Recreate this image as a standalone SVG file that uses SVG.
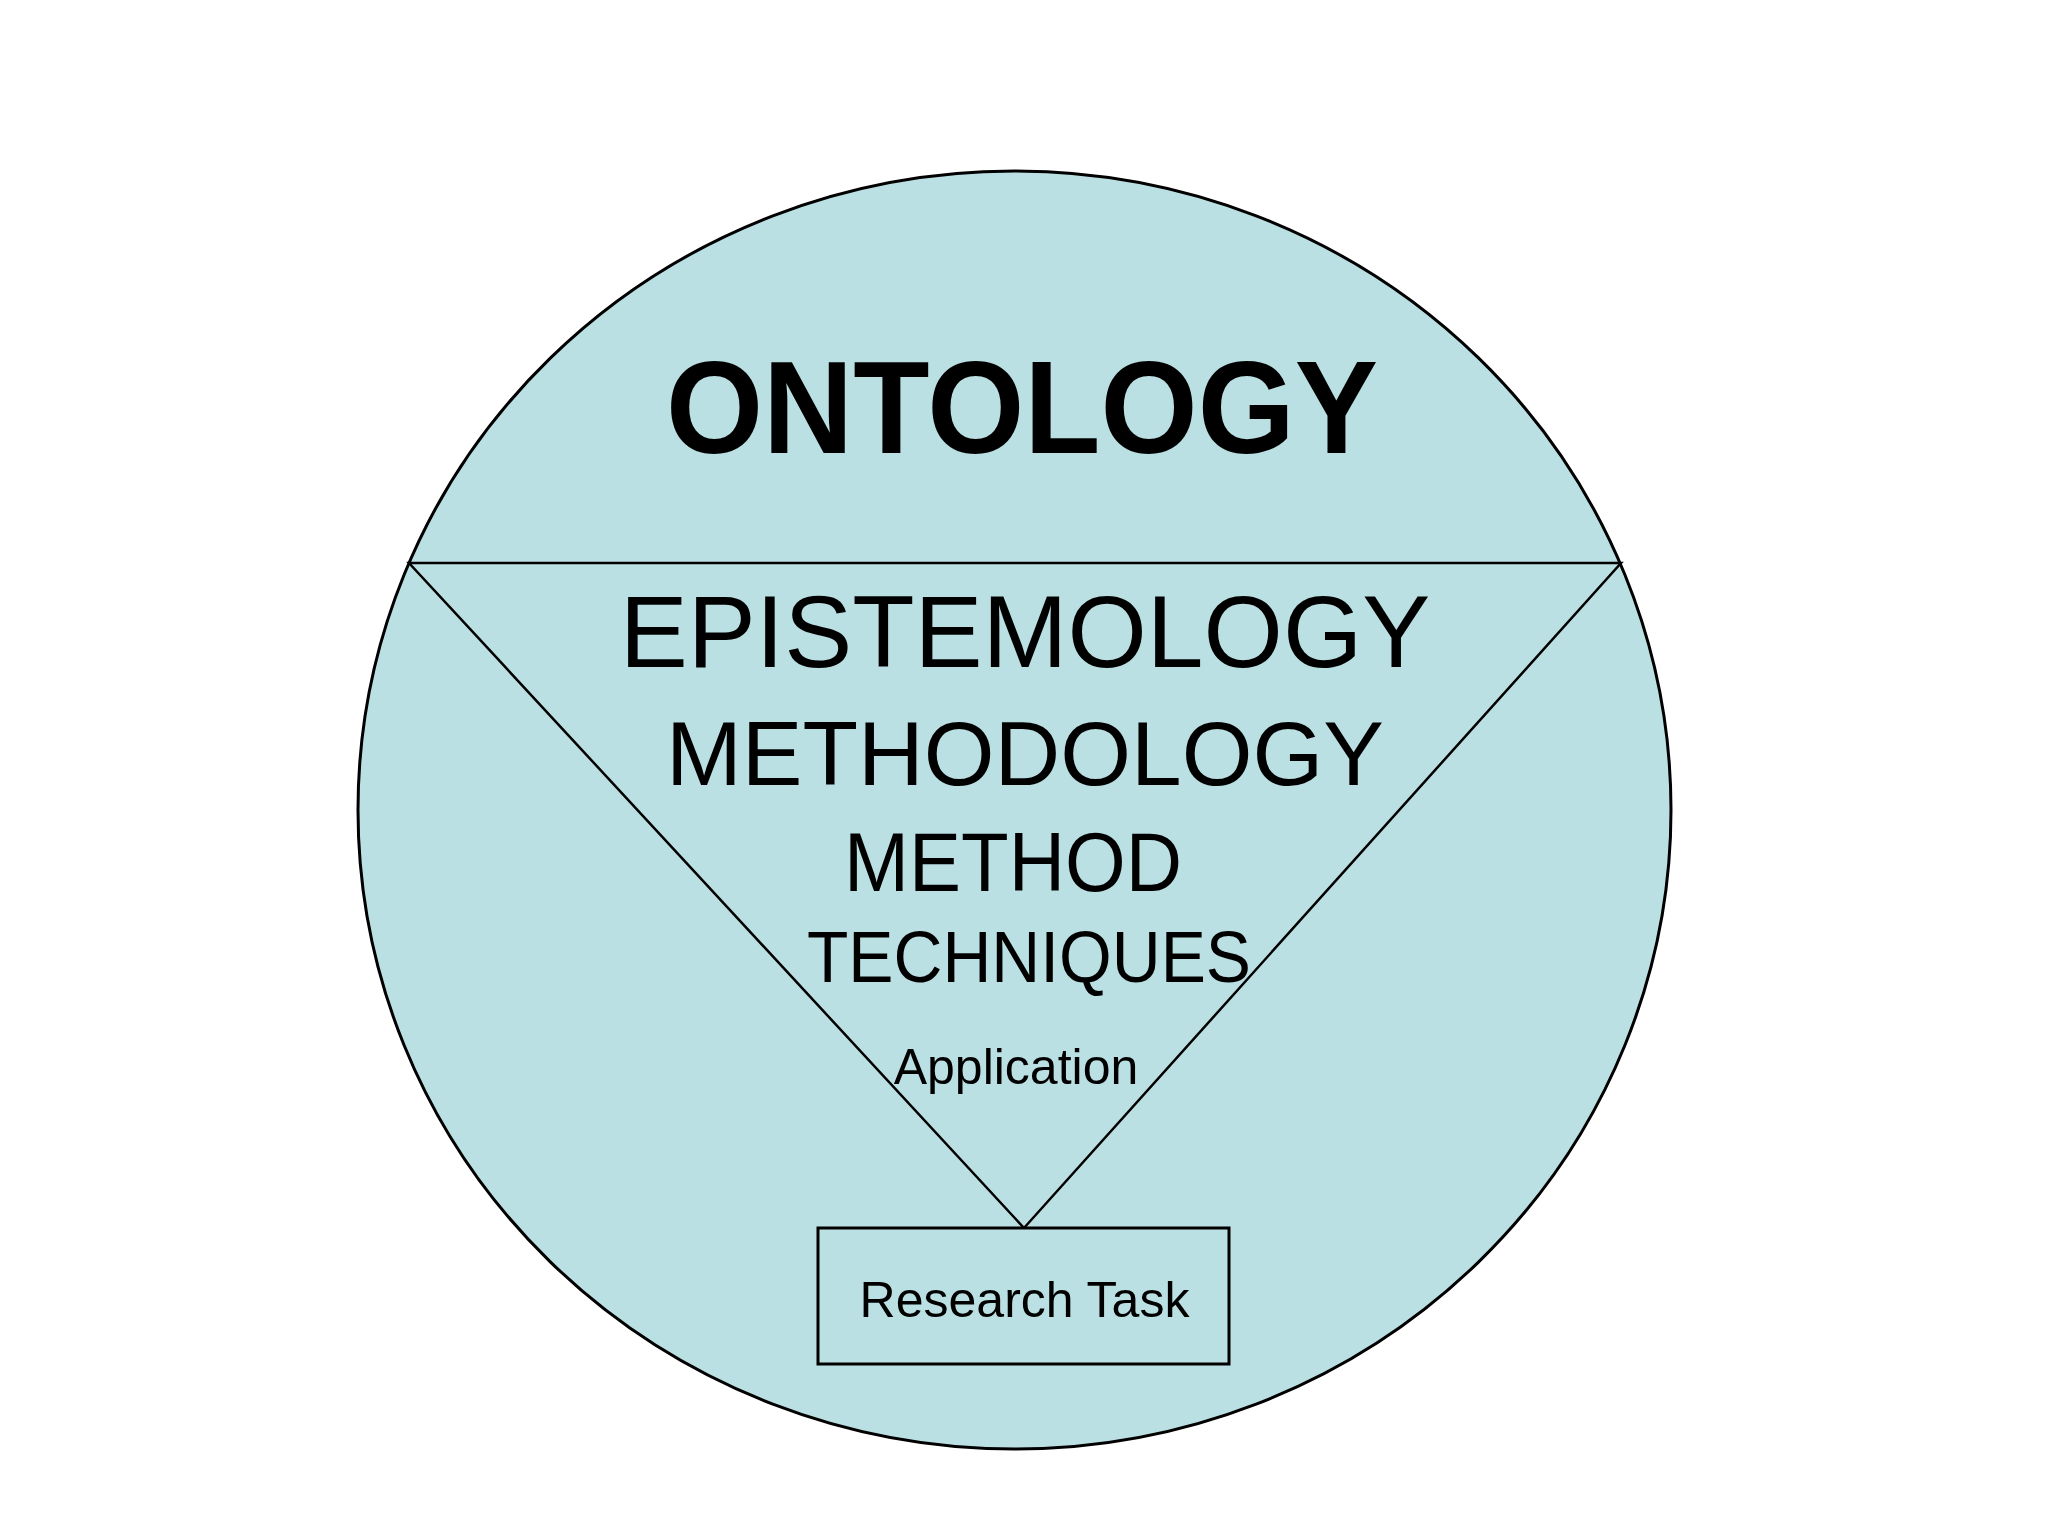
<svg xmlns="http://www.w3.org/2000/svg" width="2048" height="1536" viewBox="0 0 2048 1536">
<style>
.t{font-family:"Liberation Sans",Arial,sans-serif;fill:#000;text-anchor:middle}
.shape{fill:#BBE0E3;stroke:#000}
</style>
<rect width="2048" height="1536" fill="#fff"/>
<g id="ontology">
<ellipse class="shape" cx="1014.5" cy="810" rx="656.5" ry="639" stroke-width="3"/>
<text class="t" x="1022" y="453" font-size="131" font-weight="bold" textLength="712" lengthAdjust="spacingAndGlyphs">ONTOLOGY</text>
</g>
<g id="triangle">
<polygon points="409,563 1621,563 1024,1228" fill="#BBE0E3" stroke="#000" stroke-width="2.5" stroke-linejoin="miter"/>
<text class="t" x="1025" y="667" font-size="102">EPISTEMOLOGY</text>
<text class="t" x="1025" y="785" font-size="91">METHODOLOGY</text>
<text class="t" x="1013" y="891" font-size="83" textLength="338" lengthAdjust="spacingAndGlyphs">METHOD</text>
<text class="t" x="1029" y="982" font-size="72" textLength="444" lengthAdjust="spacingAndGlyphs">TECHNIQUES</text>
<text class="t" x="1016" y="1084" font-size="50">Application</text>
</g>
<g id="research-task">
<rect class="shape" x="818" y="1228" width="411" height="136" stroke-width="3"/>
<text class="t" x="1024.5" y="1317" font-size="50">Research Task</text>
</g>
<g id="connectors"></g>
</svg>
